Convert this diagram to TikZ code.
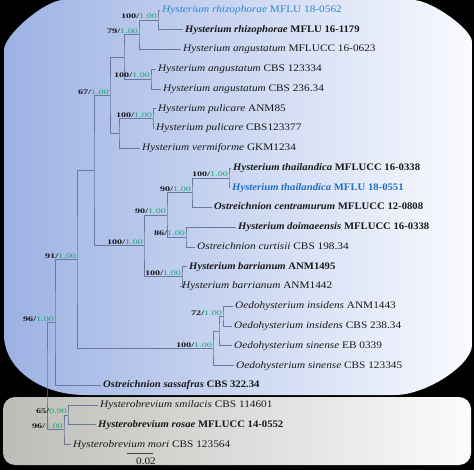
\documentclass[tikz,border=0pt]{standalone}
\usepackage{fontspec}
\setmainfont{Liberation Serif}[FakeStretch=1.13, BoldFeatures={FakeStretch=1.07}, BoldItalicFeatures={FakeStretch=1.07}]
\newfontfamily\labfont{Liberation Serif}[FakeStretch=1.45]

\definecolor{branchcol}{RGB}{105,120,155}
\definecolor{ppgreen}{RGB}{25,165,115}
\definecolor{newblue}{RGB}{45,135,205}
\definecolor{holoblue}{RGB}{30,110,195}
\definecolor{bgblue}{RGB}{156,178,228}
\definecolor{bgwhite}{RGB}{250,251,255}
\definecolor{bggray}{RGB}{188,188,184}

\newcommand{\suplab}[2]{\textbf{#1/}\textcolor{ppgreen}{#2}}

\begin{document}
\begin{tikzpicture}[x=1pt,y=-1pt,
	branch/.style={draw=branchcol, line width=0.7pt},
	taxon/.style={anchor=west, inner xsep=2pt, inner ysep=0pt, text height=7pt, text depth=2pt, font=\fontsize{10}{12}\selectfont, text=black!90},
	bsup/.style={anchor=south east, inner sep=0.8pt, font=\labfont\fontsize{7}{8}\selectfont, text=black!90}]
			\useasboundingbox (0,0) rectangle (474,470);

			% background
			\fill[black] (0,0) rectangle (474,470);
			\shade[left color=bgblue, right color=bgwhite] (4,50) .. controls (4,35) and (45,0) .. (63,0) -- (413,0) .. controls (431,0) and (472,29) .. (472,42) -- (472,345) .. controls (472,365) and (426,395) .. (395,395) -- (85,395) .. controls (40,395) and (4,368) .. (4,335) -- cycle;
			\shade[left color=bggray, right color=white!97!gray, rounded corners=12pt] (3,397) rectangle (471,465);

			% taxa
			\node[taxon] (t1) at (160,10) {\color{newblue}\textit{Hysterium rhizophorae} MFLU 18-0562};
			\node[taxon] (t2) at (183,29.75) {\bfseries\textit{Hysterium rhizophorae} MFLU 16-1179};
			\node[taxon] (t3) at (181,49.5) {\textit{Hysterium angustatum} MFLUCC 16-0623};
			\node[taxon] (t4) at (156,69.25) {\textit{Hysterium angustatum} CBS 123334};
			\node[taxon] (t5) at (161,89) {\textit{Hysterium angustatum} CBS 236.34};
			\node[taxon] (t6) at (156,108.75) {\textit{Hysterium pulicare} ANM85};
			\node[taxon] (t7) at (154,128.5) {\textit{Hysterium pulicare} CBS123377};
			\node[taxon] (t8) at (140,148.25) {\textit{Hysterium vermiforme} GKM1234};
			\node[taxon] (t9) at (231,168) {\bfseries\textit{Hysterium thailandica} MFLUCC 16-0338};
			\node[taxon] (t10) at (230,187.75) {\bfseries\color{holoblue}\textit{Hysterium thailandica} MFLU 18-0551};
			\node[taxon] (t11) at (212,207.5) {\bfseries\textit{Ostreichnion centramurum} MFLUCC 12-0808};
			\node[taxon] (t12) at (236,227.25) {\bfseries\textit{Hysterium doimaeensis} MFLUCC 16-0338};
			\node[taxon] (t13) at (195,247) {\textit{Ostreichnion curtisii} CBS 198.34};
			\node[taxon] (t14) at (187,266.75) {\bfseries\textit{Hysterium barrianum} ANM1495};
			\node[taxon] (t15) at (180,286.5) {\textit{Hysterium barrianum} ANM1442};
			\node[taxon] (t16) at (233,306.25) {\textit{Oedohysterium insidens} ANM1443};
			\node[taxon] (t17) at (232,326) {\textit{Oedohysterium insidens} CBS 238.34};
			\node[taxon] (t18) at (232,345.75) {\textit{Oedohysterium sinense} EB 0339};
			\node[taxon] (t19) at (234,365.5) {\textit{Oedohysterium sinense} CBS 123345};
			\node[taxon] (t20) at (101,385.25) {\bfseries\textit{Ostreichnion sassafras} CBS 322.34};
			\node[taxon] (t21) at (98,405) {\textit{Hysterobrevium smilacis} CBS 114601};
			\node[taxon] (t22) at (96,424.75) {\bfseries\textit{Hysterobrevium rosae} MFLUCC 14-0552};
			\node[taxon] (t23) at (71,444.5) {\textit{Hysterobrevium mori} CBS 123564};

			% inner nodes
			\coordinate (n1) at (158,19.9);
			\coordinate (n2) at (139,34.7);
			\coordinate (n3) at (151,79.1);
			\coordinate (n4) at (124,56.9);
			\coordinate (n5) at (153,118.6);
			\coordinate (n6) at (119,133.4);
			\coordinate (n7) at (110,95.2);
			\coordinate (n8) at (229,177.9);
			\coordinate (n9) at (192,192.7);
			\coordinate (n10) at (186,237.1);
			\coordinate (n11) at (167,214.9);
			\coordinate (n12) at (182,276.6);
			\coordinate (n13) at (144,245.8);
			\coordinate (n14) at (94,170.5);
			\coordinate (n15) at (223,316.1);
			\coordinate (n16) at (219,330.9);
			\coordinate (n17) at (213,348.2);
			\coordinate (n18) at (77,259.4);
			\coordinate (n19) at (55,322.3);
			\coordinate (n20) at (68,414.9);
			\coordinate (n21) at (64,429.7);
			\coordinate (root) at (47,376);

			% branches
			\draw[branch] (t1.west) -| (n1) |- (t2.west);
			\draw[branch] (n1) -| (n2) |- (t3.west);
			\draw[branch] (t4.west) -| (n3) |- (t5.west);
			\draw[branch] (n2) -| (n4) |- (n3);
			\draw[branch] (t6.west) -| (n5) |- (t7.west);
			\draw[branch] (n5) -| (n6) |- (t8.west);
			\draw[branch] (n4) -| (n7) |- (n6);
			\draw[branch] (t9.west) -| (n8) |- (t10.west);
			\draw[branch] (n8) -| (n9) |- (t11.west);
			\draw[branch] (t12.west) -| (n10) |- (t13.west);
			\draw[branch] (n9) -| (n11) |- (n10);
			\draw[branch] (t14.west) -| (n12) |- (t15.west);
			\draw[branch] (n11) -| (n13) |- (n12);
			\draw[branch] (n7) -| (n14) |- (n13);
			\draw[branch] (t16.west) -| (n15) |- (t17.west);
			\draw[branch] (n15) -| (n16) |- (t18.west);
			\draw[branch] (n16) -| (n17) |- (t19.west);
			\draw[branch] (n14) -| (n18) |- (n17);
			\draw[branch] (n18) -| (n19) |- (t20.west);
			\draw[branch] (t21.west) -| (n20) |- (t22.west);
			\draw[branch] (n20) -| (n21) |- (t23.west);
			\draw[branch] (n19) -| (root) |- (n21);

			% support values
			\node[bsup] (s1) at (n1) {\suplab{100}{1.00}};
			\node[bsup] (s2) at (n2) {\suplab{79}{1.00}};
			\node[bsup] (s3) at (n3) {\suplab{100}{1.00}};
			\node[bsup] (s5) at (n5) {\suplab{100}{1.00}};
			\node[bsup] (s7) at (n7) {\suplab{67}{1.00}};
			\node[bsup] (s8) at (n8) {\suplab{100}{1.00}};
			\node[bsup] (s9) at (n9) {\suplab{90}{1.00}};
			\node[bsup] (s10) at (n10) {\suplab{86}{1.00}};
			\node[bsup] (s11) at (n11) {\suplab{90}{1.00}};
			\node[bsup] (s12) at (n12) {\suplab{100}{1.00}};
			\node[bsup] (s13) at (n13) {\suplab{100}{1.00}};
			\node[bsup] (s15) at (n15) {\suplab{72}{1.00}};
			\node[bsup] (s17) at (n17) {\suplab{100}{1.00}};
			\node[bsup] (s18) at (n18) {\suplab{91}{1.00}};
			\node[bsup] (s19) at (n19) {\suplab{96}{1.00}};
			\node[bsup] (s20) at (n20) {\suplab{65}{0.90}};
			\node[bsup] (s21) at (n21) {\suplab{96}{1.00}};

			% scale bar
			\coordinate (sbl) at (127,453);
			\coordinate (sbr) at (153,453);
			\draw[black!75, line width=0.6pt] (sbl) -- (sbr);
			\node[font=\fontsize{10}{12}\selectfont, text=black!90, inner sep=0pt] (sbt) at (146,461) {0.02};

		\end{tikzpicture}
\end{document}
